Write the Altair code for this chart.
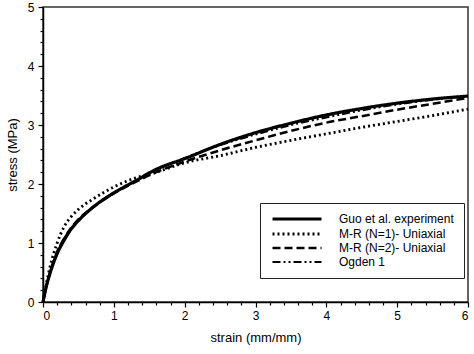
import altair as alt
import pandas as pd

strain = [0, 0.05, 0.1, 0.2, 0.3, 0.4, 0.5, 0.7, 1.0, 1.3, 1.6, 2.0, 2.5, 3.0, 3.5, 4.0, 4.5, 5.0, 5.5, 6.0]
experiment = [0, 0.28, 0.49, 0.82, 1.05, 1.24, 1.38, 1.60, 1.85, 2.05, 2.25, 2.43, 2.67, 2.87, 3.03, 3.17, 3.28, 3.37, 3.44, 3.49]
mr_n1 = [0, 0.32, 0.60, 1.00, 1.28, 1.45, 1.57, 1.74, 1.95, 2.10, 2.20, 2.36, 2.48, 2.62, 2.74, 2.85, 2.96, 3.06, 3.16, 3.27]
mr_n2 = [0, 0.28, 0.50, 0.85, 1.08, 1.26, 1.40, 1.60, 1.84, 2.03, 2.20, 2.38, 2.57, 2.74, 2.90, 3.04, 3.15, 3.26, 3.36, 3.46]
ogden = [0, 0.27, 0.50, 0.84, 1.07, 1.25, 1.39, 1.60, 1.85, 2.05, 2.24, 2.44, 2.66, 2.84, 3.00, 3.13, 3.25, 3.35, 3.43, 3.49]

names = ["Guo et al. experiment", "M-R (N=1)- Uniaxial", "M-R (N=2)- Uniaxial", "Ogden 1"]
dashes = [[1, 0], [2, 3], [8, 4], [8, 3, 2, 3, 2, 3]]
widths = [3.2, 2.2, 2.5, 2.5]

rows = []
for name, ys in zip(names, [experiment, mr_n1, mr_n2, ogden]):
    for i, (x, y) in enumerate(zip(strain, ys)):
        rows.append({"strain": x, "stress": y, "series": name, "order": i})
df = pd.DataFrame(rows)

xticks = [round(i * 0.2, 1) for i in range(31)]
yticks = [round(i * 0.2, 1) for i in range(26)]
is_major = "abs(datum.value - round(datum.value)) < 0.001"
major_label = f"{is_major} ? format(datum.value, '.0f') : ''"

font = "Liberation Sans"

chart = alt.Chart(df).mark_line(interpolate="monotone", color="black").encode(
    x=alt.X("strain:Q", scale=alt.Scale(domain=[0, 6], nice=False),
            axis=alt.Axis(title="strain (mm/mm)", values=xticks,
                          labelExpr=major_label,
                          tickSize={"condition": {"test": is_major, "value": 5}, "value": 3},
                          grid=False, titlePadding=10, labelPadding=3)),
    y=alt.Y("stress:Q", scale=alt.Scale(domain=[0, 5], nice=False),
            axis=alt.Axis(title="stress (MPa)", values=yticks,
                          labelExpr=major_label,
                          tickSize={"condition": {"test": is_major, "value": 5}, "value": 3},
                          grid=False, titlePadding=8, labelPadding=4)),
    strokeDash=alt.StrokeDash("series:N", scale=alt.Scale(domain=names, range=dashes),
                              legend=alt.Legend(title=None, orient="none", legendX=217, legendY=196,
                                                symbolType="M-1,0H13", symbolSize=49,
                                                symbolStrokeColor="black", symbolStrokeWidth=2.5,
                                                labelFontSize=12, labelFont=font, labelColor="black",
                                                labelOffset=57, strokeColor="#222", padding=10,
                                                rowPadding=2, labelLimit=200)),
    strokeWidth=alt.StrokeWidth("series:N", scale=alt.Scale(domain=names, range=widths), legend=None),
    order="order:Q",
).properties(
    width=425, height=295,
    autosize=alt.AutoSizeParams(type="none"),
    padding={"left": 43, "top": 7, "right": 6, "bottom": 52},
).configure_view(
    stroke="#333", strokeWidth=1.5
).configure_axis(
    domainColor="black", domainWidth=1.5, tickColor="black", tickWidth=1.2,
    labelFont=font, labelFontSize=12, labelColor="black",
    titleFont=font, titleFontSize=13, titleFontWeight="normal", titleColor="black",
)

chart.save("out.html", embed_options={"renderer": "svg", "actions": False})
